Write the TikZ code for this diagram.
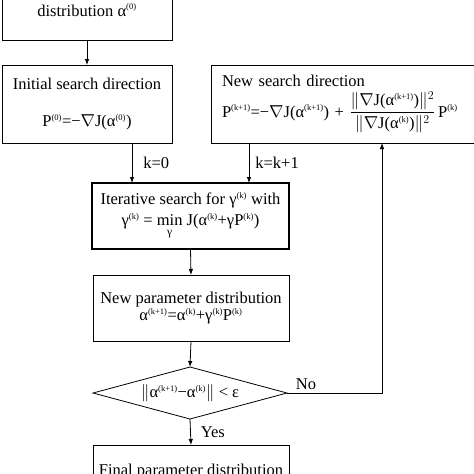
\documentclass[tikz,border=0pt]{standalone}
\usepackage{fontspec}
\usepackage{amsmath}
\setmainfont{Liberation Serif}
\usetikzlibrary{shapes.geometric,arrows.meta}
\newcommand{\up}[1]{\textsuperscript{\fontsize{8.5}{8.5}\selectfont(#1)}}
\begin{document}
\begin{tikzpicture}[x=1pt,y=-1pt,
  font=\fontsize{16.5}{20}\selectfont,
  box/.style={draw, rectangle, line width=0.8pt, inner sep=0pt, outer sep=0pt},
  dia/.style={draw, diamond, line width=0.8pt, aspect=3.7, minimum width=194pt, minimum height=52pt, inner sep=0pt, outer sep=0pt},
  arr/.style={line width=0.8pt, -{Latex[length=6pt,width=4.5pt]}},
  lbl/.style={inner sep=0pt}]
\useasboundingbox (0,0) rectangle (474,474);
\clip (0,0) rectangle (474,474);
\fill[white] (0,0) rectangle (474,474);

\node[box, minimum width=170pt, minimum height=60pt] (init) at (87,10) {distribution α\up{0}};
\node[box, minimum width=170pt, minimum height=78pt, align=center] (dir0) at (87,104)
  {Initial search direction\\[17pt]P\up{0}=−$\nabla$J(α\up{0})};
\node[box, minimum width=312pt, minimum height=78pt, text width=290pt, align=left] (dirk) at (367,104)
  {New search direction\\[4pt]
   P\up{k+1}=−$\nabla$J(α\up{k+1})\ +\ $\dfrac{\|\nabla\text{J(α\up{k+1})}\|^{2}}{\|\nabla\text{J(α\up{k})}\|^{2}}$\,P\up{k}};
\node[box, line width=1.6pt, minimum width=197pt, minimum height=66pt, align=center] (iter) at (190.5,216)
  {Iterative search for γ\up{k} with\\[1pt]
   γ\up{k} = $\mathop{\text{min}}\limits_{\text{γ}}$ J(α\up{k}+γP\up{k})};
\node[box, minimum width=196pt, minimum height=66pt, align=center] (param) at (191,308)
  {New parameter distribution\\[-3pt]α\up{k+1}=α\up{k}+γ\up{k}P\up{k}};
\node[dia] (dec) at (190,393) {$\|$α\up{k+1}−α\up{k}$\|$ < ε};
\node[box, minimum width=196pt, minimum height=54pt, anchor=north] (final) at (191,445) {Final parameter distribution};

\coordinate (k0x) at (132,0);
\coordinate (k1x) at (249,0);
\coordinate (upx) at (382,0);

\draw[arr] (init.south) -- (dir0.north);
\draw[arr] (dir0.south -| k0x) -- node[lbl, right=11pt] (l0) {k=0} (iter.north -| k0x);
\draw[arr] (dirk.south -| k1x) -- node[lbl, right=6pt] (l1) {k=k+1} (iter.north -| k1x);
\draw[arr] (iter.south) -- (param.north);
\draw[arr] (param.south) -- (dec.north);
\draw[arr] (dec.east) -- node[lbl, pos=0.2, above=3pt] (lno) {No} (dec.east -| upx) -- (dirk.south -| upx);
\draw[arr] (dec.south) -- node[lbl, right=10pt] (lyes) {Yes} (final.north);
\end{tikzpicture}
\end{document}
